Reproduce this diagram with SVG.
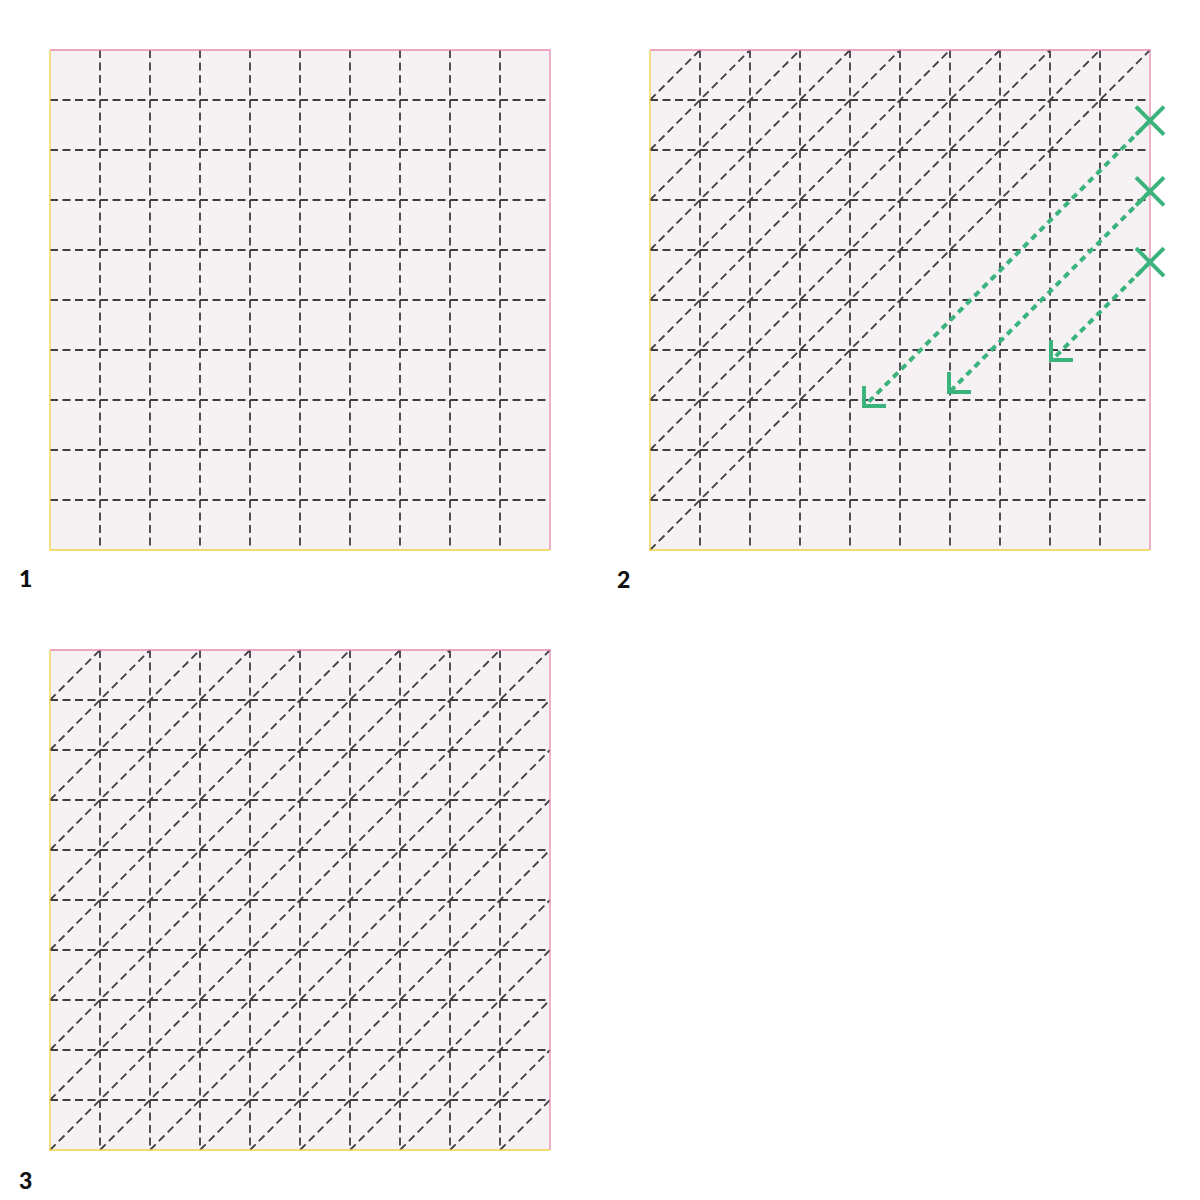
<svg xmlns="http://www.w3.org/2000/svg" width="1200" height="1200" viewBox="0 0 1200 1200">
<style>
.bg{fill:#f6f2f3;stroke:none}
.pk{stroke:#e78bb3;stroke-width:1.3;fill:none}
.yl{stroke:#f4cf45;stroke-width:1.3;fill:none}
.g{stroke:#3f3d41;stroke-width:1.8;stroke-dasharray:8 4.5;fill:none}
.gr{stroke:#3bb37d;stroke-width:4;fill:none}
.dot{stroke:#3bb37d;stroke-width:4;stroke-dasharray:6.5 5;fill:none}
.lb{font-family:"Lato","Liberation Sans",sans-serif;font-weight:900;font-size:23px;fill:#111}
</style>
<defs>
<g id="grid">
<rect class="bg" x="0" y="0" width="500" height="500"/>
<path class="g" d="M50,0V500M100,0V500M150,0V500M200,0V500M250,0V500M300,0V500M350,0V500M400,0V500M450,0V500M0,50H500M0,100H500M0,150H500M0,200H500M0,250H500M0,300H500M0,350H500M0,400H500M0,450H500"/>
</g>
<g id="frame">
<path class="pk" d="M0,0H500V500"/>
<path class="yl" d="M0,0V500H500"/>
</g>
<g id="upper">
<path class="g" d="M0,50L50,0M0,100L100,0M0,150L150,0M0,200L200,0M0,250L250,0M0,300L300,0M0,350L350,0M0,400L400,0M0,450L450,0M0,500L500,0"/>
</g>
<g id="lower">
<path class="g" d="M50,500L500,50M100,500L500,100M150,500L500,150M200,500L500,200M250,500L500,250M300,500L500,300M350,500L500,350M400,500L500,400M450,500L500,450"/>
</g>
</defs>
<g id="panel1" transform="translate(50,50)">
<use href="#grid"/>
<use href="#frame"/>
</g>
<g id="panel2" transform="translate(650,50)">
<use href="#grid"/>
<use href="#upper"/>
<use href="#frame"/>
</g>
<g id="panel3" transform="translate(50,650)">
<use href="#grid"/>
<use href="#upper"/>
<use href="#lower"/>
<use href="#frame"/>
</g>
<g id="connectors">
<path class="dot" d="M1150,120.7L865,405.5"/>
<path class="gr" d="M864,386V406H886"/>
<path class="dot" d="M1150,191.4L950,391.5"/>
<path class="gr" d="M949,372V392H971"/>
<path class="dot" d="M1150,262.1L1052,360"/>
<path class="gr" d="M1051,340V360H1073"/>
</g>
<g id="marks">
<path class="gr" d="M1136,106.7l28,28m0,-28l-28,28"/>
<path class="gr" d="M1136,177.4l28,28m0,-28l-28,28"/>
<path class="gr" d="M1136,248.1l28,28m0,-28l-28,28"/>
</g>
<g id="labels">
<text class="lb" x="19" y="587">1</text>
<text class="lb" x="617" y="588">2</text>
<text class="lb" x="19" y="1189">3</text>
</g>
</svg>
